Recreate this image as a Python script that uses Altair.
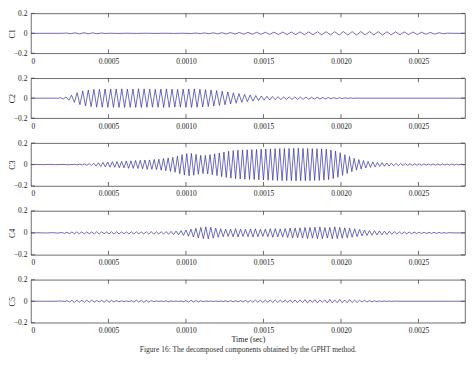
import altair as alt
import pandas as pd

X_TICKS = [0, 0.0005, 0.001, 0.0015, 0.002, 0.0025]
Y_TICKS = [-0.2, 0, 0.2]
X_MAX = 0.0028
NAMES = ["C1", "C2", "C3", "C4", "C5"]
CAPTION = "Figure 16: The decomposed components obtained by the GPHT method."

# times in microseconds, amplitudes in thousandths (peaks)
C1_T = [0, 200, 230, 258, 286, 314, 342, 370, 398, 426, 454, 482, 510,
        560, 620, 680, 740, 800, 860, 920, 980,
        1036, 1064, 1092, 1120, 1148, 1176, 1204, 1232, 1260, 1288, 1316, 1344, 1372, 1400,
        1428, 1456, 1484, 1512, 1540, 1568, 1596, 1624, 1652, 1680, 1708, 1736, 1764, 1792,
        1820, 1848, 1876, 1904, 1932, 1960, 1988, 2016, 2044, 2072, 2100, 2128, 2156, 2184,
        2212, 2240, 2268, 2296, 2324, 2352, 2380, 2408, 2436, 2464, 2492, 2520, 2548, 2576,
        2604, 2632, 2660, 2688, 2716, 2800]
C1_V = [0, 0, 3, -4, 5, -6, 6, -5, 5, -4, 3, -2, 1,
        -1, 1, -1, 1, -1, 1, -1, 1,
        -2, 3, -3, 4, -4, 5, -5, 6, -6, 7, -7, 8, -8, 9,
        -9, 10, -10, 11, -11, 12, -12, 12, -13, 13, -13, 14, -14, 14,
        -15, 15, -15, 16, -16, 16, -17, 17, -17, 17, -17, 17, -16, 17,
        -16, 16, -16, 15, -15, 15, -14, 14, -13, 13, -12, 11, -10, 9,
        -8, 6, -4, 2, 0, 0]

C2_T = [0, 180, 190, 208, 226, 244, 262, 280, 298, 316, 334, 352, 370, 388, 406, 424, 442,
        460, 478, 496, 514, 532, 550, 568, 586, 604, 622, 640, 658, 676, 694, 712, 730,
        748, 766, 784, 802, 820, 838, 856, 874, 892, 910, 928, 946, 964, 982, 1000, 1018,
        1036, 1054, 1072, 1090, 1108, 1126, 1144, 1162, 1180, 1198, 1216, 1234, 1252, 1270,
        1288, 1306, 1324, 1342, 1360, 1378, 1396, 1414, 1432, 1450, 1468, 1486, 1504, 1522,
        1540, 1558, 1576, 1594, 1612, 1630, 1648, 1666, 1684, 1702, 1720, 1738, 1756, 1774,
        1792, 1810, 1828, 1846, 1864, 1882, 1900, 1918, 1936, 1954, 1972, 1990, 2008, 2026,
        2044, 2062, 2080, 2098, 2120, 2800]
C2_V = [0, 0, 5, -8, 12, -20, 30, -42, 55, -65, 72, -78, 82, -85, 88, -90, 90,
        -91, 92, -92, 93, -92, 92, -93, 94, -93, 92, -91, 92, -93, 94, -94, 93,
        -92, 91, -90, 90, -91, 92, -93, 93, -92, 91, -90, 89, -90, 91, -92, 92,
        -93, 93, -92, 90, -88, 86, -84, 82, -79, 76, -73, 70, -66, 62,
        -58, 54, -50, 46, -42, 38, -35, 32, -29, 26, -24, 22, -20, 19,
        -18, 17, -16, 15, -15, 14, -14, 13, -13, 12, -12, 11, -11, 10,
        -10, 9, -9, 8, -8, 7, -7, 6, -6, 5, -5, 5, -4, 4,
        -3, 3, -2, 1, 0, 0]

C3_T = [0, 40, 80, 120, 160, 200, 240, 280,
        300, 315, 330, 345, 360, 375, 390, 405, 420, 435, 450, 465, 480, 495,
        510, 525, 540, 555, 570, 585, 600, 615, 630, 645, 660, 675, 690, 705,
        720, 735, 750, 765, 780, 795, 810, 825, 840, 855, 870, 885, 900, 915,
        930, 945, 960, 975, 990, 1005, 1020, 1035, 1050, 1065, 1080, 1095, 1110, 1125,
        1140, 1155, 1170, 1185, 1200, 1215, 1230, 1245, 1260, 1275, 1290, 1305, 1320, 1335,
        1350, 1365, 1380, 1395, 1410, 1425, 1440, 1455, 1470, 1485, 1500, 1515, 1530, 1545,
        1560, 1575, 1590, 1605, 1620, 1635, 1650, 1665, 1680, 1695, 1710, 1725, 1740, 1755,
        1770, 1785, 1800, 1815, 1830, 1845, 1860, 1875, 1890, 1905, 1920, 1935, 1950, 1965,
        1980, 1995, 2010, 2025, 2040, 2055, 2070, 2085, 2100, 2115, 2130, 2145, 2160, 2175,
        2190, 2205, 2220, 2235, 2250, 2265, 2280, 2295, 2310, 2325, 2340, 2355, 2370, 2385,
        2400, 2415, 2430, 2445, 2460, 2475, 2490, 2505, 2520, 2535, 2550, 2565, 2580, 2595,
        2610, 2625, 2640, 2655, 2670, 2685, 2700, 2715, 2730, 2745, 2760, 2775, 2790, 2800]
C3_V = [0, 1, -1, 1, -1, 1, -2, 2,
        -3, 4, -5, 6, -7, 8, -9, 12, -14, 16, -18, 20, -22, 24,
        -25, 27, -26, 28, -30, 29, -31, 33, -35, 34, -36, 38, -37, 39,
        -40, 42, -44, 43, -45, 47, -48, 50, -53, 56, -58, 61, -64, 67,
        -72, 78, -85, 92, -98, 102, -105, 104, -100, 95, -90, 86, -84, 85,
        -88, 92, -96, 100, -104, 108, -112, 116, -120, 124, -127, 130, -132, 134,
        -135, 136, -137, 138, -139, 140, -140, 141, -142, 143, -144, 145, -146, 146,
        -147, 148, -148, 149, -150, 150, -150, 150, -151, 151, -152, 152, -151, 150,
        -150, 149, -150, 148, -149, 147, -148, 146, -145, 143, -140, 136, -131, 125,
        -118, 110, -101, 92, -83, 74, -66, 58, -52, 46, -41, 37, -33, 30,
        -27, 24, -22, 20, -18, 17, -16, 15, -14, 13, -12, 11, -10, 10,
        -9, 9, -8, 8, -8, 7, -7, 7, -7, 6, -6, 6, -6, 6,
        -6, 5, -5, 5, -5, 5, -5, 5, -5, 4, -4, 4, -3, 0]

C4_T = [0, 60, 100, 140, 170,
        200, 216, 232, 248, 264, 280, 296, 312, 328, 344, 360, 376, 392, 408, 424, 440,
        456, 472, 488, 504, 520, 536, 552, 568, 584, 600, 616, 632, 648, 664, 680, 696,
        712, 728, 744, 760, 776, 792, 808, 824, 840, 856, 872, 888, 904, 920, 936, 952,
        968, 984, 1000, 1016, 1032, 1048, 1064, 1080, 1096, 1112, 1128, 1144, 1160, 1176, 1192, 1208,
        1224, 1240, 1256, 1272, 1288, 1304, 1320, 1336, 1352, 1368, 1384, 1400, 1416, 1432, 1448, 1464,
        1480, 1496, 1512, 1528, 1544, 1560, 1576, 1592, 1608, 1624, 1640, 1656, 1672, 1688, 1704, 1720,
        1736, 1752, 1768, 1784, 1800, 1816, 1832, 1848, 1864, 1880, 1896, 1912, 1928, 1944, 1960, 1976,
        1992, 2008, 2024, 2040, 2056, 2072, 2088, 2104, 2120, 2136, 2152, 2168, 2184, 2200, 2216, 2232,
        2248, 2264, 2280, 2296, 2312, 2328, 2344, 2360, 2376, 2392, 2408, 2424, 2440, 2456, 2472, 2488,
        2504, 2520, 2536, 2552, 2568, 2584, 2600, 2616, 2632, 2648, 2664, 2680, 2696, 2720, 2800]
C4_V = [0, 1, -1, 2, -2,
        3, -5, 6, -7, 8, -8, 9, -8, 9, -10, 9, -8, 9, -10, 11, -10,
        9, -8, 9, -10, 11, -12, 11, -10, 9, -8, 8, -9, 10, -11, 10, -9,
        8, -9, 10, -11, 12, -12, 11, -10, 10, -11, 12, -13, 14, -15, 16, -18,
        20, -23, 26, -30, 34, -38, 42, -46, 50, -53, 55, -54, 52, -48, 44, -40,
        37, -35, 34, -33, 34, -36, 38, -37, 35, -33, 32, -34, 36, -38, 37, -35,
        33, -32, 34, -36, 38, -40, 39, -37, 36, -38, 40, -42, 44, -46, 45, -44,
        46, -48, 50, -52, 50, -48, 51, -53, 54, -52, 49, -47, 50, -53, 55, -52,
        50, -48, 46, -44, 42, -40, 37, -34, 31, -28, 26, -24, 22, -21, 20, -19,
        18, -17, 16, -15, 14, -13, 12, -11, 10, -10, 9, -9, 8, -8, 7, -7,
        7, -6, 6, -6, 5, -5, 5, -5, 4, -4, 3, -3, 2, 0, 0]

C5_T = [0, 150,
        200, 216, 232, 248, 264, 280, 296, 312, 328, 344, 360, 376, 392, 408, 424, 440,
        456, 472, 488, 504, 520, 536, 552, 568, 584, 600, 616, 632, 648, 664, 680, 696,
        712, 728, 744, 760, 776, 792, 808, 824, 840, 856, 872, 888, 904, 920, 936, 952,
        968, 984, 1000, 1016, 1032, 1048, 1064, 1080, 1096, 1112, 1128, 1144, 1160, 1176, 1192, 1208,
        1224, 1240, 1256, 1272, 1288, 1304, 1320, 1336, 1352, 1368, 1384, 1400, 1416, 1432, 1448, 1464,
        1480, 1496, 1512, 1528, 1544, 1560, 1576, 1592, 1608, 1624, 1640, 1656, 1672, 1688, 1704, 1720,
        1736, 1752, 1768, 1784, 1800, 1816, 1832, 1848, 1864, 1880, 1896, 1912, 1928, 1944, 1960, 1976,
        1992, 2008, 2024, 2040, 2056, 2072, 2088, 2104, 2120, 2136, 2152, 2168, 2184, 2200, 2216, 2232,
        2248, 2264, 2280, 2296, 2312, 2328, 2344, 2400, 2800]
C5_V = [0, 0,
        2, -3, 5, -7, 9, -10, 10, -9, 10, -11, 10, -9, 10, -9, 8, -7,
        8, -9, 10, -9, 8, -7, 6, -5, 4, -3, 3, -4, 6, -8, 9, -8,
        9, -10, 9, -8, 6, -4, 3, -2, 2, -2, 3, -4, 3, -2, 2, -2,
        3, -5, 7, -8, 9, -8, 7, -6, 4, -3, 2, -2, 2, -3, 2, -2,
        2, -3, 4, -5, 6, -5, 4, -5, 6, -7, 8, -9, 8, -9, 10, -9,
        10, -11, 10, -9, 10, -11, 12, -11, 10, -9, 10, -11, 12, -13, 12, -14,
        13, -12, 14, -16, 13, -11, 14, -15, 12, -10, 13, -16, 18, -15, 12, -14,
        17, -14, 11, -13, 15, -12, 10, -12, 10, -8, 9, -7, 6, -5, 4, -3,
        3, -2, 2, -1, 1, -1, 1, 0, 0]

SERIES = [(C1_T, C1_V), (C2_T, C2_V), (C3_T, C3_V), (C4_T, C4_V), (C5_T, C5_V)]
HEIGHTS = [40, 40, 43, 44, 43]
WIDTH = 435
FONT = "Liberation Serif"
LINE_COLOR = "#2e2e9c"
FRAME = "#4a4a4a"

x_scale = alt.Scale(domain=[0, X_MAX], nice=False, zero=False)
y_scale = alt.Scale(domain=[-0.2, 0.2], nice=False)
tick_df = pd.DataFrame({"t": X_TICKS[1:]})
ytick_df = pd.DataFrame({"v": Y_TICKS})

panels = []
for i, (name, (ts, vs)) in enumerate(zip(NAMES, SERIES)):
    h = HEIGHTS[i]
    last = i == len(NAMES) - 1
    df = pd.DataFrame({"t": [t / 1e6 for t in ts], "v": [v / 1000 for v in vs]})
    x_axis = alt.Axis(values=X_TICKS, grid=False, ticks=False, domain=False,
                      labelPadding=4, titlePadding=1,
                      labelExpr="datum.value == 0 ? '0' : format(datum.value, '.4f')")
    y_axis = alt.Axis(values=Y_TICKS, grid=False, ticks=False, domain=False,
                      labelPadding=4, titleX=-14, titleY=h / 2,
                      labelExpr="datum.value == 0 ? '0' : format(datum.value, '.1f')")
    x_enc = alt.X("t:Q", scale=x_scale, axis=x_axis,
                  title="Time (sec)" if last else None)
    y_enc = alt.Y("v:Q", scale=y_scale, axis=y_axis, title=name)

    line = alt.Chart(df).mark_line(color=LINE_COLOR, strokeWidth=0.7, clip=True).encode(
        x=x_enc, y=y_enc)
    top_ticks = alt.Chart(tick_df).mark_rule(color=FRAME, strokeWidth=0.8).encode(
        x=x_enc, y=alt.value(0), y2=alt.value(4))
    bot_ticks = alt.Chart(tick_df).mark_rule(color=FRAME, strokeWidth=0.8).encode(
        x=x_enc, y=alt.value(h - 4), y2=alt.value(h))
    left_ticks = alt.Chart(ytick_df).mark_rule(color=FRAME, strokeWidth=0.8).encode(
        y=y_enc, x=alt.value(0), x2=alt.value(4))
    right_ticks = alt.Chart(ytick_df).mark_rule(color=FRAME, strokeWidth=0.8).encode(
        y=y_enc, x=alt.value(WIDTH - 4), x2=alt.value(WIDTH))
    panels.append(alt.layer(line, top_ticks, bot_ticks, left_ticks, right_ticks)
                  .properties(width=WIDTH, height=h))

chart = alt.vconcat(*panels, spacing=25, bounds="flush").properties(
    padding={"left": 0, "top": 0, "right": 0, "bottom": 0},
    background="white",
    title=alt.TitleParams(text=CAPTION, orient="bottom", anchor="middle",
                          font=FONT, fontSize=7.5, fontWeight="normal",
                          color="#333333", offset=2, dx=11),
).configure_view(stroke=FRAME, strokeWidth=0.8).configure_axis(
    labelFont=FONT, labelFontSize=7.5, labelColor="#222222",
    titleFont=FONT, titleFontSize=8, titleFontWeight="normal", titleColor="#222222",
)

chart.save("out.html", embed_options={"renderer": "svg", "actions": False})
